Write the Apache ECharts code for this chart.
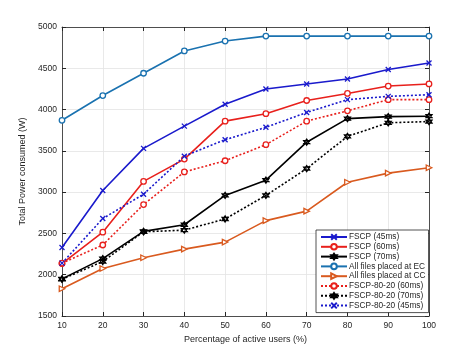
<!DOCTYPE html>
<html><head><meta charset="utf-8">
<script src="https://cdn.jsdelivr.net/npm/echarts@6/dist/echarts.min.js"></script>
<style>html,body{margin:0;padding:0;background:#fff}#c{width:474px;height:355px}</style>
</head><body><div id="c"></div>
<script>
const xValues = [10,20,30,40,50,60,70,80,90,100];
const fscp45 = [2330,3020,3530,3800,4065,4250,4310,4370,4485,4565];
const fscp60 = [2135,2515,3130,3400,3860,3950,4110,4195,4285,4310];
const fscp70 = [1950,2195,2525,2605,2960,3145,3605,3890,3915,3920];
const allEC = [3870,4170,4440,4710,4830,4890,4890,4890,4890,4890];
const allCC = [1830,2075,2205,2310,2395,2655,2770,3120,3230,3295];
const f8020_60 = [2140,2360,2850,3245,3380,3575,3860,3985,4120,4120];
const f8020_70 = [1945,2160,2520,2540,2675,2960,3285,3675,3840,3855];
const f8020_45 = [2140,2680,2975,3435,3635,3785,3965,4120,4160,4180];
const seriesNames = ['FSCP (45ms)','FSCP (60ms)','FSCP (70ms)','All files placed at EC','All files placed at CC','FSCP-80-20 (60ms)','FSCP-80-20 (70ms)','FSCP-80-20 (45ms)'];

const BLUE='#1a1acc', RED='#e8201c', BLACK='#000000', EC='#1a72b0', CC='#d95a1f';
const xSym='path://M0,0L10,10M10,0L0,10';
const hexSym='path://M0,-10L8.66,5L-8.66,5Z M0,10L8.66,-5L-8.66,-5Z';
const triSym='path://M0,0L10,5L0,10Z';

function mk(name, data, color, type, symbol, fill, size){
  return {
    name, type:'line', data: xValues.map((x,i)=>[x,data[i]]),
    symbol, symbolSize:size, showSymbol:true,
    lineStyle:{color, width:1.6, type},
    itemStyle:{color: fill, borderColor:color, borderWidth:1.3},
    emphasis:{disabled:true}, z: 3
  };
}
const series = [
  mk(seriesNames[0], fscp45, BLUE, 'solid', xSym, BLUE, 5),
  mk(seriesNames[1], fscp60, RED, 'solid', 'circle', '#fff', 5.5),
  mk(seriesNames[2], fscp70, BLACK, 'solid', hexSym, BLACK, 6),
  mk(seriesNames[3], allEC, EC, 'solid', 'circle', '#fff', 5.5),
  mk(seriesNames[4], allCC, CC, 'solid', triSym, '#fff', 5.5),
  mk(seriesNames[5], f8020_60, RED, [2,2], 'circle', '#fff', 5.5),
  mk(seriesNames[6], f8020_70, BLACK, [2,2], hexSym, BLACK, 6),
  mk(seriesNames[7], f8020_45, BLUE, [2,2], xSym, BLUE, 5)
];
const font = 'Liberation Sans, Arial, sans-serif';
const axisCommon = {
  axisLine:{show:true, lineStyle:{color:'#262626', width:0.8}},
  axisTick:{show:true, inside:true, length:4, lineStyle:{color:'#262626'}},
};
const lbl = {color:'#262626', fontSize:8.5, fontFamily:font, margin:5, formatter: v => String(v)};
const chart = echarts.init(document.getElementById('c'), null, {renderer:'canvas'});
chart.setOption({
  animation:false,
  backgroundColor:'#fff',
  grid:{left:62, right:45, top:27, bottom:39, show:false},
  xAxis:[
    Object.assign({type:'value', min:10, max:100, interval:10, position:'bottom',
      name:'Percentage of active users (%)', nameLocation:'middle', nameGap:15,
      nameTextStyle:{color:'#262626', fontSize:9, fontFamily:font},
      splitLine:{show:true, lineStyle:{color:'#e3e3e3', width:0.8}}, axisLabel:lbl}, axisCommon),
    Object.assign({type:'value', min:10, max:100, interval:10, position:'top',
      splitLine:{show:false}, axisLabel:{show:false}}, axisCommon)
  ],
  yAxis:[
    Object.assign({type:'value', min:1500, max:5000, interval:500, position:'left',
      name:'Total Power consumed (W)', nameLocation:'middle', nameGap:26, nameRotate:90,
      nameTextStyle:{color:'#262626', fontSize:9, fontFamily:font},
      splitLine:{show:true, lineStyle:{color:'#e3e3e3', width:0.8}}, axisLabel:lbl}, axisCommon),
    Object.assign({type:'value', min:1500, max:5000, interval:500, position:'right',
      splitLine:{show:false}, axisLabel:{show:false}}, axisCommon)
  ],
  legend:{
    orient:'vertical', left:316, top:230, width:107,
    backgroundColor:'#fff', borderColor:'#262626', borderWidth:0.8,
    padding:[3,3,3,4], itemGap:1.8, itemWidth:26, itemHeight:7,
    textStyle:{fontSize:8.3, fontFamily:font, color:'#262626', padding:[0,0,0,-3]},
    data: seriesNames
  },
  series
});
</script></body></html>
